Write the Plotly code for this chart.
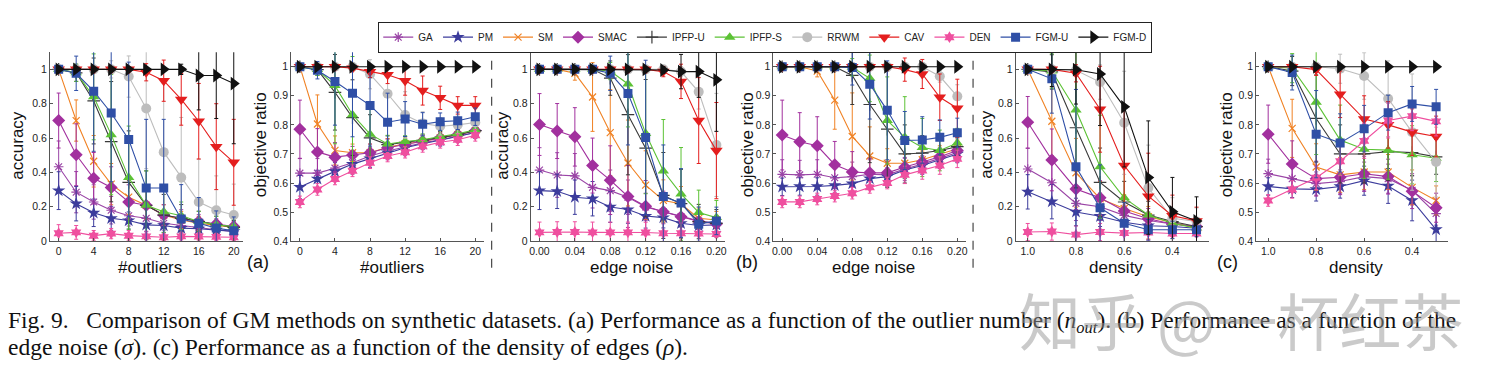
import plotly.graph_objects as go

# ---------------- data ----------------
methods = ["GA", "PM", "SM", "SMAC", "IPFP-U", "IPFP-S", "RRWM", "CAV", "DEN", "FGM-U", "FGM-D"]

outliers = [0, 2, 4, 6, 8, 10, 12, 14, 16, 18, 20]
edge_noise = [0.00, 0.02, 0.04, 0.06, 0.08, 0.10, 0.12, 0.14, 0.16, 0.18, 0.20]
density = [1.0, 0.9, 0.8, 0.7, 0.6, 0.5, 0.4, 0.3]

x_ticks_outliers = [0, 4, 8, 12, 16, 20]
x_ticks_noise = [0.00, 0.04, 0.08, 0.12, 0.16, 0.20]
x_ticks_density = [1.0, 0.8, 0.6, 0.4]
y_ticks_acc = [0, 0.2, 0.4, 0.6, 0.8, 1]
y_ticks_obj = [0.4, 0.5, 0.6, 0.7, 0.8, 0.9, 1]

# (a) accuracy vs #outliers
acc_outliers = {
    "GA":     [0.433, 0.285, 0.228, 0.18, 0.148, 0.133, 0.104, 0.091, 0.082, 0.066, 0.057],
    "PM":     [0.294, 0.218, 0.165, 0.133, 0.12, 0.095, 0.091, 0.076, 0.072, 0.066, 0.057],
    "SM":     [1.0, 0.702, 0.465, 0.332, 0.256, 0.209, 0.152, 0.123, 0.104, 0.091, 0.08],
    "SMAC":   [0.702, 0.503, 0.366, 0.313, 0.228, 0.209, 0.152, 0.133, 0.114, 0.10, 0.085],
    "IPFP-U": [1.0, 0.98, 0.816, 0.579, 0.342, 0.209, 0.152, 0.133, 0.114, 0.095, 0.08],
    "IPFP-S": [1.0, 0.98, 0.84, 0.62, 0.37, 0.209, 0.171, 0.148, 0.114, 0.095, 0.085],
    "RRWM":   [1.0, 1.0, 1.0, 1.0, 0.958, 0.772, 0.518, 0.37, 0.228, 0.18, 0.152],
    "CAV":    [1.0, 1.0, 1.0, 1.0, 1.0, 0.983, 0.934, 0.825, 0.698, 0.55, 0.459],
    "DEN":    [0.046, 0.051, 0.032, 0.044, 0.032, 0.028, 0.023, 0.028, 0.027, 0.025, 0.023],
    "FGM-U":  [1.0, 0.977, 0.873, 0.746, 0.592, 0.309, 0.309, 0.129, 0.104, 0.076, 0.061],
    "FGM-D":  [1.0, 1.0, 1.0, 1.0, 1.0, 1.0, 1.0, 1.0, 0.964, 0.964, 0.917],
}
acc_outliers_std = {
    "GA":     [0.15, 0.12, 0.1, 0.08, 0.06, 0.05, 0.04, 0.03, 0.03, 0.02, 0.02],
    "PM":     [0.11, 0.1, 0.08, 0.07, 0.05, 0.04, 0.04, 0.03, 0.03, 0.02, 0.02],
    "SM":     [0.0, 0.12, 0.15, 0.12, 0.1, 0.08, 0.06, 0.05, 0.04, 0.03, 0.03],
    "SMAC":   [0.16, 0.18, 0.15, 0.12, 0.1, 0.08, 0.06, 0.05, 0.04, 0.03, 0.03],
    "IPFP-U": [0.0, 0.05, 0.25, 0.35, 0.3, 0.2, 0.12, 0.08, 0.06, 0.05, 0.04],
    "IPFP-S": [0.0, 0.05, 0.25, 0.35, 0.3, 0.2, 0.12, 0.08, 0.06, 0.05, 0.04],
    "RRWM":   [0.0, 0.0, 0.0, 0.05, 0.12, 0.35, 0.4, 0.35, 0.25, 0.2, 0.18],
    "CAV":    [0.0, 0.0, 0.0, 0.0, 0.0, 0.05, 0.12, 0.15, 0.22, 0.25, 0.25],
    "DEN":    [0.05, 0.04, 0.03, 0.03, 0.03, 0.03, 0.02, 0.02, 0.02, 0.02, 0.02],
    "FGM-U":  [0.0, 0.1, 0.35, 0.4, 0.45, 0.4, 0.4, 0.2, 0.15, 0.1, 0.08],
    "FGM-D":  [0.0, 0.0, 0.0, 0.0, 0.0, 0.0, 0.0, 0.03, 0.2, 0.25, 0.35],
}

# (a) objective ratio vs #outliers
obj_outliers = {
    "GA":     [0.634, 0.634, 0.651, 0.67, 0.693, 0.71, 0.724, 0.738, 0.749, 0.762, 0.774],
    "PM":     [0.586, 0.614, 0.64, 0.665, 0.684, 0.704, 0.721, 0.735, 0.747, 0.76, 0.774],
    "SM":     [1.0, 0.803, 0.712, 0.704, 0.704, 0.723, 0.735, 0.743, 0.755, 0.766, 0.78],
    "SMAC":   [0.785, 0.707, 0.689, 0.696, 0.704, 0.721, 0.732, 0.743, 0.755, 0.766, 0.78],
    "IPFP-U": [1.0, 0.99, 0.912, 0.825, 0.755, 0.732, 0.74, 0.747, 0.757, 0.766, 0.78],
    "IPFP-S": [1.0, 0.99, 0.935, 0.835, 0.768, 0.734, 0.743, 0.749, 0.76, 0.769, 0.783],
    "RRWM":   [1.0, 1.0, 1.0, 1.0, 0.974, 0.907, 0.834, 0.805, 0.795, 0.80, 0.808],
    "CAV":    [1.0, 1.0, 1.0, 0.995, 0.983, 0.972, 0.952, 0.918, 0.893, 0.867, 0.867],
    "DEN":    [0.535, 0.578, 0.614, 0.642, 0.67, 0.693, 0.706, 0.726, 0.74, 0.749, 0.764],
    "FGM-U":  [1.0, 0.988, 0.949, 0.909, 0.867, 0.809, 0.82, 0.802, 0.811, 0.814, 0.828],
    "FGM-D":  [1.0] * 11,
}
obj_outliers_std = {
    "GA":     [0.05, 0.05, 0.04, 0.04, 0.03, 0.03, 0.03, 0.02, 0.02, 0.02, 0.02],
    "PM":     [0.04, 0.03, 0.03, 0.03, 0.03, 0.02, 0.02, 0.02, 0.02, 0.02, 0.02],
    "SM":     [0.0, 0.1, 0.05, 0.03, 0.03, 0.03, 0.02, 0.02, 0.02, 0.02, 0.02],
    "SMAC":   [0.1, 0.08, 0.05, 0.03, 0.03, 0.03, 0.02, 0.02, 0.02, 0.02, 0.02],
    "IPFP-U": [0.0, 0.02, 0.13, 0.13, 0.08, 0.03, 0.02, 0.02, 0.02, 0.02, 0.02],
    "IPFP-S": [0.0, 0.02, 0.2, 0.2, 0.1, 0.03, 0.02, 0.02, 0.02, 0.02, 0.02],
    "RRWM":   [0.0, 0.0, 0.0, 0.0, 0.05, 0.1, 0.08, 0.04, 0.03, 0.03, 0.03],
    "CAV":    [0.0, 0.0, 0.0, 0.0, 0.02, 0.03, 0.05, 0.05, 0.04, 0.03, 0.03],
    "DEN":    [0.02, 0.02, 0.02, 0.02, 0.02, 0.02, 0.02, 0.02, 0.02, 0.02, 0.02],
    "FGM-U":  [0.0, 0.03, 0.15, 0.15, 0.14, 0.1, 0.06, 0.04, 0.03, 0.03, 0.03],
    "FGM-D":  [0.0] * 11,
}

# (b) accuracy vs edge noise
acc_noise = {
    "GA":     [0.414, 0.385, 0.38, 0.313, 0.294, 0.256, 0.199, 0.171, 0.142, 0.118, 0.104],
    "PM":     [0.294, 0.29, 0.256, 0.247, 0.199, 0.184, 0.146, 0.137, 0.104, 0.091, 0.095],
    "SM":     [1.0, 1.0, 0.977, 0.839, 0.632, 0.455, 0.326, 0.237, 0.218, 0.133, 0.123],
    "SMAC":   [0.679, 0.641, 0.607, 0.44, 0.355, 0.26, 0.203, 0.171, 0.142, 0.114, 0.10],
    "IPFP-U": [1.0, 1.0, 1.0, 1.0, 0.949, 0.736, 0.541, 0.266, 0.218, 0.114, 0.104],
    "IPFP-S": [1.0, 1.0, 1.0, 1.0, 0.99, 0.915, 0.626, 0.408, 0.275, 0.167, 0.137],
    "RRWM":   [1.0, 1.0, 1.0, 1.0, 1.0, 1.0, 1.0, 1.0, 0.987, 0.869, 0.56],
    "CAV":    [1.0, 1.0, 1.0, 1.0, 1.0, 1.0, 1.0, 0.987, 0.93, 0.702, 0.527],
    "DEN":    [0.051, 0.053, 0.053, 0.051, 0.051, 0.051, 0.05, 0.046, 0.046, 0.044, 0.042],
    "FGM-U":  [1.0, 1.0, 1.0, 1.0, 0.977, 0.86, 0.603, 0.26, 0.222, 0.099, 0.118],
    "FGM-D":  [1.0, 1.0, 1.0, 1.0, 1.0, 1.0, 1.0, 0.996, 0.987, 0.987, 0.939],
}
acc_noise_std = {
    "GA":     [0.13, 0.13, 0.13, 0.12, 0.12, 0.1, 0.08, 0.07, 0.06, 0.05, 0.04],
    "PM":     [0.11, 0.1, 0.1, 0.1, 0.09, 0.08, 0.07, 0.06, 0.05, 0.04, 0.04],
    "SM":     [0.0, 0.0, 0.04, 0.2, 0.25, 0.25, 0.2, 0.12, 0.1, 0.06, 0.05],
    "SMAC":   [0.18, 0.16, 0.17, 0.16, 0.2, 0.18, 0.15, 0.12, 0.1, 0.06, 0.05],
    "IPFP-U": [0.0, 0.0, 0.0, 0.0, 0.1, 0.35, 0.4, 0.25, 0.2, 0.1, 0.08],
    "IPFP-S": [0.0, 0.0, 0.0, 0.0, 0.05, 0.25, 0.35, 0.3, 0.27, 0.13, 0.1],
    "RRWM":   [0.0, 0.0, 0.0, 0.0, 0.0, 0.0, 0.0, 0.0, 0.03, 0.1, 0.3],
    "CAV":    [0.0, 0.0, 0.0, 0.0, 0.0, 0.0, 0.0, 0.03, 0.1, 0.25, 0.28],
    "DEN":    [0.06, 0.06, 0.06, 0.06, 0.06, 0.06, 0.06, 0.06, 0.06, 0.06, 0.06],
    "FGM-U":  [0.0, 0.0, 0.0, 0.0, 0.1, 0.3, 0.45, 0.3, 0.2, 0.1, 0.08],
    "FGM-D":  [0.0, 0.0, 0.0, 0.0, 0.0, 0.0, 0.0, 0.02, 0.1, 0.15, 0.3],
}

# (b) objective ratio vs edge noise
obj_noise = {
    "GA":     [0.63, 0.628, 0.63, 0.618, 0.622, 0.63, 0.628, 0.648, 0.665, 0.685, 0.705],
    "PM":     [0.587, 0.588, 0.588, 0.592, 0.598, 0.615, 0.622, 0.645, 0.66, 0.68, 0.70],
    "SM":     [1.0, 1.0, 0.985, 0.885, 0.76, 0.693, 0.668, 0.668, 0.68, 0.698, 0.718],
    "SMAC":   [0.765, 0.742, 0.728, 0.663, 0.638, 0.635, 0.635, 0.655, 0.672, 0.69, 0.712],
    "IPFP-U": [1.0, 1.0, 1.0, 1.0, 0.97, 0.87, 0.785, 0.70, 0.703, 0.712, 0.725],
    "IPFP-S": [1.0, 1.0, 1.0, 1.0, 0.998, 0.96, 0.815, 0.757, 0.722, 0.712, 0.738],
    "RRWM":   [1.0, 1.0, 1.0, 1.0, 1.0, 1.0, 1.0, 1.0, 1.0, 0.967, 0.898],
    "CAV":    [1.0, 1.0, 1.0, 1.0, 1.0, 1.0, 1.0, 0.99, 0.975, 0.895, 0.857],
    "DEN":    [0.535, 0.535, 0.545, 0.555, 0.565, 0.585, 0.60, 0.628, 0.643, 0.66, 0.683],
    "FGM-U":  [1.0, 1.0, 1.0, 1.0, 0.997, 0.94, 0.85, 0.746, 0.748, 0.757, 0.773],
    "FGM-D":  [1.0] * 11,
}
obj_noise_std = {
    "GA":     [0.05, 0.05, 0.05, 0.05, 0.05, 0.05, 0.04, 0.04, 0.03, 0.03, 0.03],
    "PM":     [0.03, 0.03, 0.03, 0.03, 0.03, 0.03, 0.03, 0.03, 0.03, 0.03, 0.03],
    "SM":     [0.0, 0.0, 0.02, 0.1, 0.15, 0.1, 0.05, 0.03, 0.03, 0.03, 0.03],
    "SMAC":   [0.12, 0.1, 0.1, 0.08, 0.07, 0.05, 0.04, 0.03, 0.03, 0.03, 0.03],
    "IPFP-U": [0.0, 0.0, 0.0, 0.0, 0.1, 0.2, 0.2, 0.1, 0.06, 0.04, 0.03],
    "IPFP-S": [0.0, 0.0, 0.0, 0.0, 0.03, 0.08, 0.15, 0.14, 0.1, 0.07, 0.05],
    "RRWM":   [0.0, 0.0, 0.0, 0.0, 0.0, 0.0, 0.0, 0.0, 0.01, 0.02, 0.04],
    "CAV":    [0.0, 0.0, 0.0, 0.0, 0.0, 0.0, 0.0, 0.04, 0.05, 0.08, 0.1],
    "DEN":    [0.02, 0.02, 0.02, 0.02, 0.02, 0.02, 0.02, 0.03, 0.03, 0.03, 0.03],
    "FGM-U":  [0.0, 0.0, 0.0, 0.0, 0.06, 0.12, 0.17, 0.1, 0.08, 0.06, 0.05],
    "FGM-D":  [0.0] * 11,
}

# (c) accuracy vs density
acc_density = {
    "GA":     [0.42, 0.34, 0.22, 0.20, 0.15, 0.12, 0.10, 0.085],
    "PM":     [0.287, 0.23, 0.17, 0.145, 0.11, 0.09, 0.085, 0.075],
    "SM":     [1.0, 0.698, 0.398, 0.247, 0.19, 0.142, 0.108, 0.076],
    "SMAC":   [0.692, 0.473, 0.304, 0.252, 0.175, 0.13, 0.10, 0.085],
    "IPFP-U": [1.0, 0.985, 0.66, 0.342, 0.228, 0.152, 0.114, 0.085],
    "IPFP-S": [1.0, 0.99, 0.763, 0.433, 0.252, 0.152, 0.104, 0.076],
    "RRWM":   [1.0, 1.0, 0.995, 0.926, 0.689, 0.309, 0.133, 0.114],
    "CAV":    [1.0, 1.0, 0.977, 0.768, 0.44, 0.262, 0.148, 0.118],
    "DEN":    [0.053, 0.056, 0.038, 0.053, 0.047, 0.05, 0.045, 0.045],
    "FGM-U":  [1.0, 0.945, 0.433, 0.194, 0.104, 0.066, 0.066, 0.066],
    "FGM-D":  [1.0, 1.0, 0.998, 0.973, 0.782, 0.37, 0.171, 0.118],
}
acc_density_std = {
    "GA":     [0.12, 0.12, 0.1, 0.08, 0.06, 0.05, 0.04, 0.03],
    "PM":     [0.1, 0.1, 0.08, 0.06, 0.05, 0.04, 0.03, 0.03],
    "SM":     [0.0, 0.2, 0.2, 0.1, 0.08, 0.06, 0.04, 0.03],
    "SMAC":   [0.15, 0.18, 0.12, 0.1, 0.08, 0.06, 0.04, 0.03],
    "IPFP-U": [0.0, 0.1, 0.35, 0.2, 0.12, 0.08, 0.05, 0.03],
    "IPFP-S": [0.0, 0.1, 0.35, 0.3, 0.2, 0.1, 0.05, 0.04],
    "RRWM":   [0.0, 0.0, 0.02, 0.1, 0.3, 0.25, 0.12, 0.08],
    "CAV":    [0.0, 0.0, 0.05, 0.25, 0.35, 0.25, 0.12, 0.08],
    "DEN":    [0.05, 0.05, 0.05, 0.05, 0.05, 0.05, 0.05, 0.05],
    "FGM-U":  [0.0, 0.2, 0.45, 0.25, 0.12, 0.06, 0.05, 0.04],
    "FGM-D":  [0.0, 0.1, 0.2, 0.3, 0.35, 0.33, 0.2, 0.14],
}

# (c) objective ratio vs density
obj_density = {
    "GA":     [0.632, 0.615, 0.598, 0.605, 0.622, 0.615, 0.575, 0.495],
    "PM":     [0.588, 0.58, 0.578, 0.588, 0.608, 0.59, 0.54, 0.44],
    "SM":     [1.0, 0.788, 0.655, 0.628, 0.638, 0.638, 0.585, 0.54],
    "SMAC":   [0.768, 0.665, 0.615, 0.62, 0.632, 0.622, 0.572, 0.515],
    "IPFP-U": [1.0, 0.985, 0.822, 0.70, 0.70, 0.708, 0.705, 0.69],
    "IPFP-S": [1.0, 0.995, 0.878, 0.748, 0.716, 0.713, 0.697, 0.685],
    "RRWM":   [1.0, 1.0, 1.0, 0.993, 0.968, 0.89, 0.775, 0.672],
    "CAV":    [1.0, 1.0, 0.99, 0.905, 0.82, 0.80, 0.775, 0.76],
    "DEN":    [0.54, 0.578, 0.618, 0.675, 0.745, 0.815, 0.83, 0.812],
    "FGM-U":  [1.0, 0.98, 0.768, 0.738, 0.787, 0.842, 0.872, 0.862],
    "FGM-D":  [1.0] * 8,
}
obj_density_std = {
    "GA":     [0.05, 0.04, 0.04, 0.04, 0.05, 0.05, 0.05, 0.04],
    "PM":     [0.03, 0.03, 0.04, 0.04, 0.05, 0.06, 0.07, 0.05],
    "SM":     [0.0, 0.1, 0.08, 0.06, 0.06, 0.06, 0.06, 0.05],
    "SMAC":   [0.1, 0.08, 0.06, 0.06, 0.06, 0.06, 0.06, 0.05],
    "IPFP-U": [0.0, 0.05, 0.15, 0.1, 0.1, 0.1, 0.08, 0.06],
    "IPFP-S": [0.0, 0.05, 0.18, 0.12, 0.1, 0.1, 0.1, 0.08],
    "RRWM":   [0.0, 0.0, 0.0, 0.05, 0.08, 0.13, 0.2, 0.12],
    "CAV":    [0.0, 0.0, 0.02, 0.08, 0.08, 0.08, 0.08, 0.07],
    "DEN":    [0.02, 0.03, 0.04, 0.05, 0.06, 0.06, 0.05, 0.05],
    "FGM-U":  [0.0, 0.06, 0.15, 0.1, 0.08, 0.06, 0.06, 0.06],
    "FGM-D":  [0.0] * 8,
}

# ---------------- styles ----------------
W, H = 1503, 383
colors = {
    "GA": "#9a45a6", "PM": "#3c3c9c", "SM": "#f08224", "SMAC": "#a2309e",
    "IPFP-U": "#3a3a3a", "IPFP-S": "#5cc235", "RRWM": "#bdbdbd", "CAV": "#e41e1e",
    "DEN": "#ef4f9f", "FGM-U": "#2f4fa6", "FGM-D": "#111111",
}
symbols = {
    "GA": "asterisk", "PM": "star", "SM": "x-thin", "SMAC": "diamond",
    "IPFP-U": "cross-thin", "IPFP-S": "triangle-up", "RRWM": "circle", "CAV": "triangle-down",
    "DEN": "hexagram", "FGM-U": "square", "FGM-D": "triangle-right",
}
sizes = {
    "GA": 8, "PM": 10, "SM": 7, "SMAC": 10, "IPFP-U": 9, "IPFP-S": 10,
    "RRWM": 10, "CAV": 11, "DEN": 9, "FGM-U": 9, "FGM-D": 12,
}
open_syms = {"asterisk", "x-thin", "cross-thin"}

def px_x(p):
    return p / W

def px_y(p):
    return 1 - p / H

panel_px = [(49, 242), (290.7, 484), (530.7, 725.7), (774, 967), (1016.7, 1210), (1257.7, 1450)]
y_dom = [px_y(245), px_y(53)]

panels = [
    (outliers, acc_outliers, acc_outliers_std),
    (outliers, obj_outliers, obj_outliers_std),
    (edge_noise, acc_noise, acc_noise_std),
    (edge_noise, obj_noise, obj_noise_std),
    (density, acc_density, acc_density_std),
    (density, obj_density, obj_density_std),
]

fig = go.Figure()
for pi, (xs, vals, stds) in enumerate(panels):
    ax = "" if pi == 0 else str(pi + 1)
    for m in methods:
        c = colors[m]
        sym = symbols[m]
        marker = dict(symbol=sym, size=sizes[m], color=c,
                      line=dict(width=1.2 if sym in open_syms else 0, color=c))
        fig.add_trace(go.Scatter(
            x=xs, y=vals[m], mode="lines+markers", name=m,
            line=dict(color=c, width=1.1), marker=marker,
            error_y=dict(type="data", array=stds[m], visible=True, color=c,
                         thickness=1, width=2),
            xaxis="x" + ax, yaxis="y" + ax,
            legendgroup=m, showlegend=(pi == 0), cliponaxis=True,
        ))

tick_font = dict(family="Liberation Sans, Arial, sans-serif", size=10.5, color="#222")
axis_common = dict(showline=True, linecolor="#555", linewidth=1, mirror=False,
                   showgrid=False, zeroline=False, ticks="inside", ticklen=3,
                   tickcolor="#555", tickfont=tick_font)

layout = dict(width=W, height=H, margin=dict(l=0, r=0, t=0, b=0),
              paper_bgcolor="white", plot_bgcolor="white",
              font=dict(family="Liberation Sans, Arial, sans-serif", color="#111"))

xcfg = [
    dict(range=[-1, 21], tickvals=x_ticks_outliers),
    dict(range=[-1, 21], tickvals=x_ticks_outliers),
    dict(range=[-0.01, 0.21], tickvals=x_ticks_noise, tickformat=".2f"),
    dict(range=[-0.01, 0.21], tickvals=x_ticks_noise, tickformat=".2f"),
    dict(range=[1.05, 0.25], tickvals=x_ticks_density, tickformat=".1f"),
    dict(range=[1.05, 0.25], tickvals=x_ticks_density, tickformat=".1f"),
]
ycfg = [
    dict(range=[0, 1.1], tickvals=y_ticks_acc),
    dict(range=[0.4, 1.05], tickvals=y_ticks_obj),
] * 3

for pi in range(6):
    ax = "" if pi == 0 else str(pi + 1)
    x0, x1 = panel_px[pi]
    layout["xaxis" + ax] = dict(domain=[px_x(x0), px_x(x1)], anchor="y" + ax, **xcfg[pi], **axis_common)
    layout["yaxis" + ax] = dict(domain=y_dom, anchor="x" + ax, **ycfg[pi], **axis_common)

fig.update_layout(**layout)

# legend
fig.update_layout(legend=dict(
    orientation="h", x=px_x(378), y=px_y(22), xanchor="left", yanchor="top",
    bordercolor="#222", borderwidth=1, bgcolor="white",
    font=dict(family="Liberation Sans, Arial, sans-serif", size=10, color="#222"),
    itemwidth=30, tracegroupgap=0,
))

annotations = []
ytitles = ["accuracy", "objective ratio"] * 3
ytitle_x = [17, 260, 503, 748, 988, 1228]
xtitles = ["#outliers", "#outliers", "edge noise", "edge noise", "density", "density"]
for pi in range(6):
    x0, x1 = panel_px[pi]
    annotations.append(dict(text=ytitles[pi], x=px_x(ytitle_x[pi]), y=px_y(147), xref="paper", yref="paper",
                            textangle=-90, showarrow=False, xanchor="center", yanchor="middle",
                            font=dict(size=17, family="Liberation Sans, Arial, sans-serif", color="#111")))
    annotations.append(dict(text=xtitles[pi], x=px_x((x0 + x1) / 2 + 4), y=px_y(272), xref="paper", yref="paper",
                            showarrow=False, xanchor="center", yanchor="middle",
                            font=dict(size=17, family="Liberation Sans, Arial, sans-serif", color="#111")))
for lab, xp in [("(a)", 258), ("(b)", 747), ("(c)", 1229)]:
    annotations.append(dict(text=lab, x=px_x(xp), y=px_y(266), xref="paper", yref="paper",
                            showarrow=False, xanchor="center", yanchor="middle",
                            font=dict(size=18, family="Liberation Sans, Arial, sans-serif", color="#111")))

cap_font = dict(family="Liberation Serif, Times New Roman, serif", size=23.5, color="#111")
annotations.append(dict(
    text="Fig. 9.   Comparison of GM methods on synthetic datasets. (a) Performance as a function of the outlier number (<i>n<sub>out</sub></i>). (b) Performance as a function of the",
    x=px_x(5), y=px_y(327), xref="paper", yref="paper", showarrow=False,
    xanchor="left", yanchor="middle", font=cap_font))
annotations.append(dict(
    text="edge noise (<i>σ</i>). (c) Performance as a function of the density of edges (<i>ρ</i>).",
    x=px_x(5), y=px_y(353), xref="paper", yref="paper", showarrow=False,
    xanchor="left", yanchor="middle", font=cap_font))
annotations.append(dict(
    text="知乎 @一杯红茶", x=px_x(1243), y=px_y(324), xref="paper", yref="paper", showarrow=False,
    xanchor="center", yanchor="middle",
    font=dict(family="Noto Sans CJK SC", size=62, color="rgba(150,150,150,0.5)")))

shapes = []
for xp in (491.7, 974):
    shapes.append(dict(type="line", xref="paper", yref="paper", x0=px_x(xp), x1=px_x(xp),
                       y0=px_y(272), y1=px_y(47), line=dict(color="#222", width=1, dash="dash")))

fig.update_layout(annotations=annotations, shapes=shapes)
fig.write_html("out.html", config={"displayModeBar": False},
               post_script="document.body.style.margin='0px';document.body.style.overflow='hidden';")
